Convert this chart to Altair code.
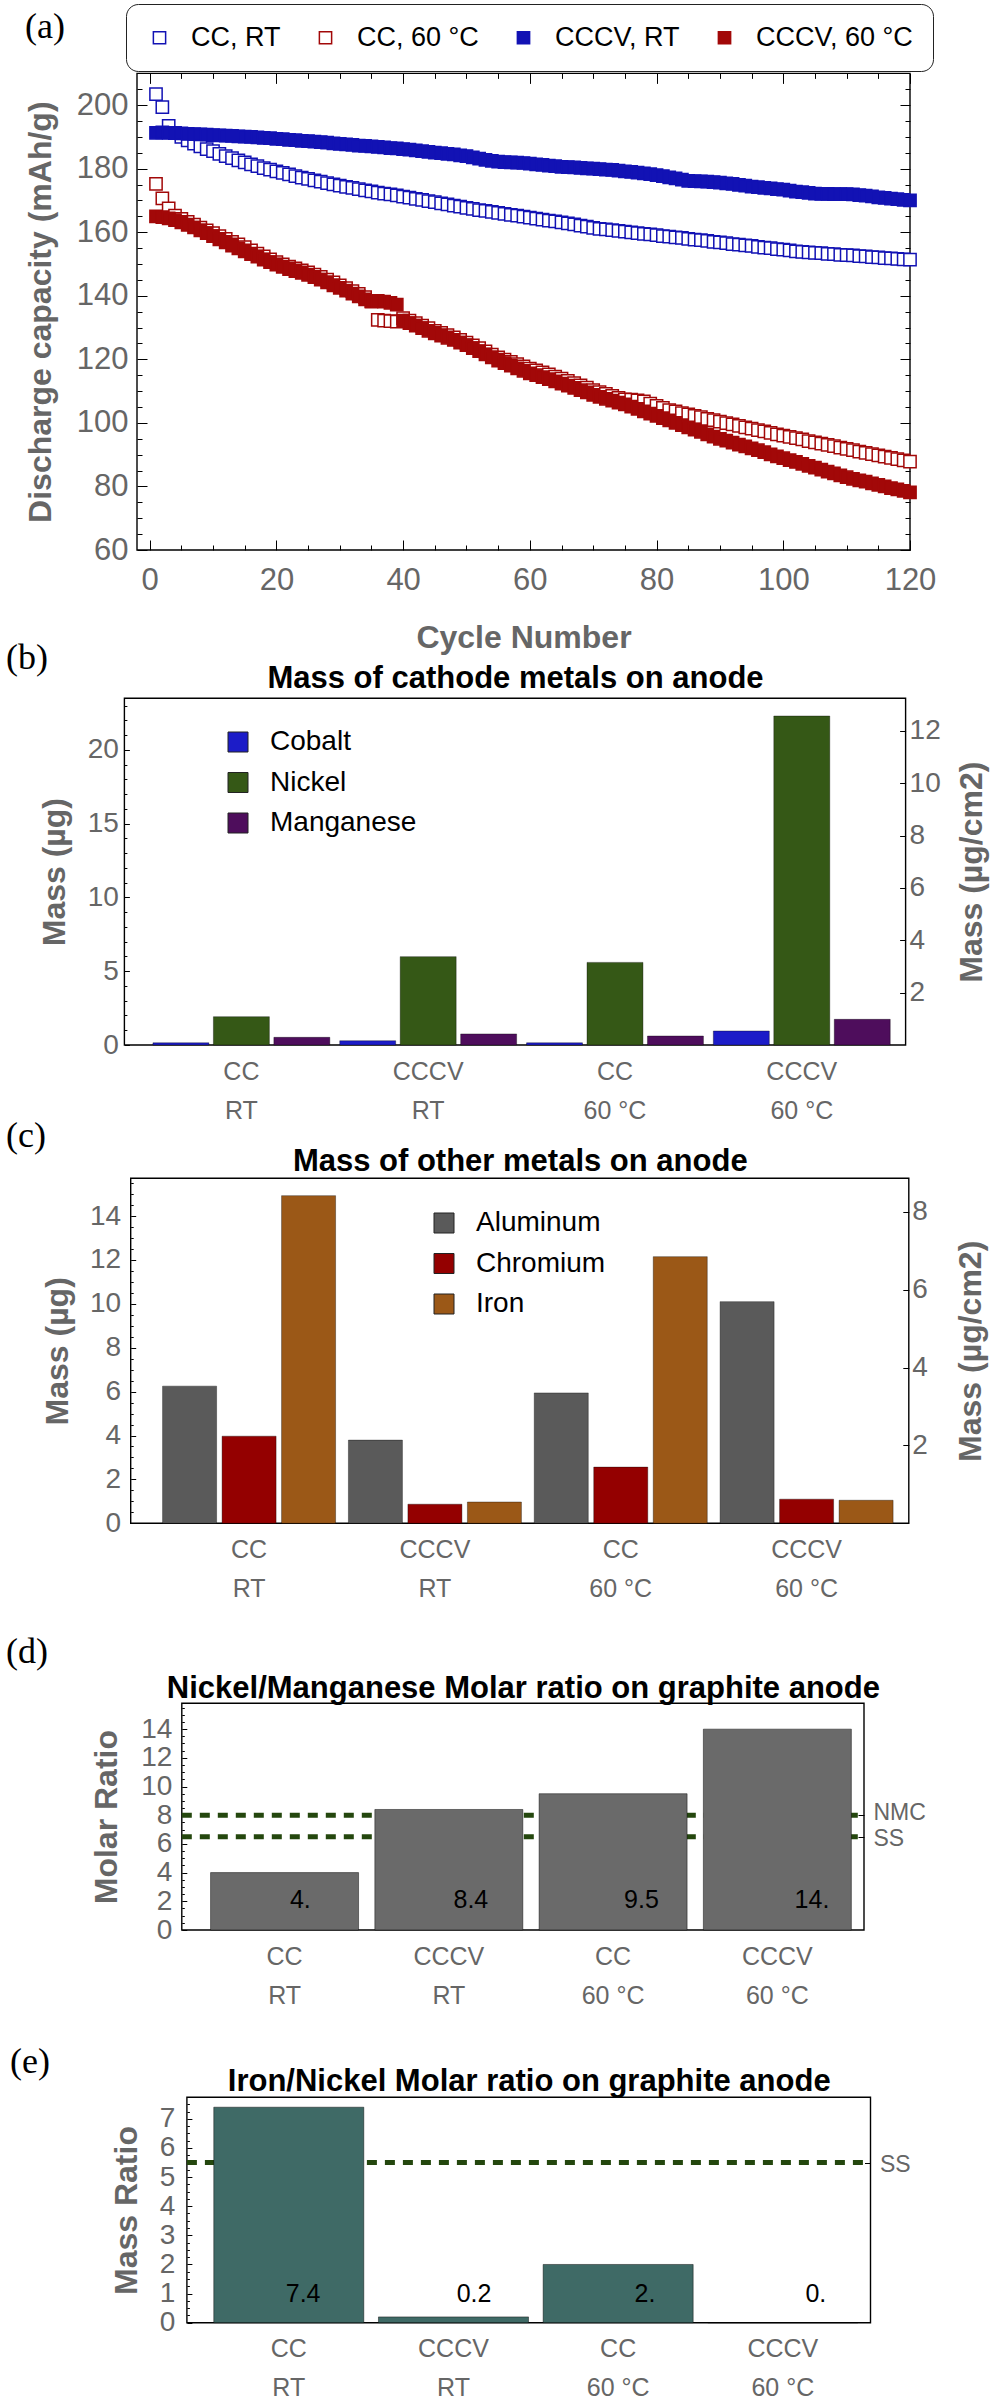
import altair as alt
import pandas as pd

W, H = 1000, 2402
SANS = "Liberation Sans"
SERIF = "Liberation Serif"
GRAY = "#666666"

# ---------------- (a) discharge capacity vs. cycle number ----------------
cycles = list(range(1, 121))
cc_rt = [203.5, 199.4, 193.5, 191.3, 190.0, 188.9, 187.9, 187.0, 186.2, 185.5,
         184.7, 184.0, 183.3, 182.6, 182.0, 181.4, 180.8, 180.2, 179.7, 179.2,
         178.7, 178.2, 177.7, 177.2, 176.8, 176.3, 175.9, 175.5, 175.1, 174.7,
         174.3, 174.0, 173.6, 173.2, 172.9, 172.5, 172.2, 171.9, 171.6, 171.2,
         170.9, 170.5, 170.2, 169.8, 169.5, 169.1, 168.8, 168.4, 168.1, 167.7,
         167.4, 167.0, 166.7, 166.4, 166.1, 165.8, 165.5, 165.2, 164.9, 164.6,
         164.3, 164.0, 163.7, 163.4, 163.1, 162.8, 162.5, 162.1, 161.8, 161.4,
         161.1, 160.9, 160.7, 160.4, 160.2, 160.0, 159.7, 159.5, 159.3, 159.1,
         158.8, 158.6, 158.4, 158.2, 157.9, 157.7, 157.5, 157.3, 157.0, 156.8,
         156.6, 156.3, 156.1, 155.9, 155.7, 155.4, 155.2, 155.0, 154.7, 154.5,
         154.3, 154.0, 153.8, 153.7, 153.5, 153.4, 153.2, 153.1, 152.9, 152.8,
         152.7, 152.5, 152.4, 152.2, 152.1, 151.9, 151.8, 151.6, 151.5, 151.4]
cc_60 = [175.2, 170.7, 167.5, 165.2, 164.2, 163.3, 162.4, 161.5, 160.6, 159.7,
         158.8, 157.9, 157.0, 156.2, 155.3, 154.3, 153.3, 152.4, 151.5, 150.6,
         149.9, 149.2, 148.6, 148.0, 147.4, 146.7, 146.0, 145.1, 144.2, 143.3,
         142.4, 141.5, 140.6, 139.6, 138.2, 132.4, 132.2, 132.0, 131.9, 133.0,
         132.2, 131.4, 130.6, 129.8, 129.0, 128.3, 127.6, 126.9, 126.1, 125.3,
         124.4, 123.5, 122.5, 121.5, 120.6, 119.9, 119.2, 118.5, 117.8, 117.1,
         116.5, 115.9, 115.3, 114.6, 113.9, 113.2, 112.5, 111.8, 111.1, 110.3,
         109.7, 109.1, 108.5, 107.9, 107.4, 107.3, 107.1, 106.8, 106.1, 105.4,
         104.7, 104.0, 103.6, 103.1, 102.7, 102.2, 101.8, 101.3, 100.9, 100.4,
         99.9, 99.5, 99.1, 98.6, 98.2, 97.7, 97.3, 96.9, 96.4, 96.0,
         95.6, 95.2, 94.8, 94.3, 93.9, 93.5, 93.1, 92.7, 92.2, 91.8,
         91.4, 91.0, 90.6, 90.2, 89.8, 89.4, 89.0, 88.6, 88.2, 87.8]
cccv_rt = [191.3, 191.4, 191.3, 191.2, 191.1, 191.0, 190.9, 190.8, 190.7, 190.6,
           190.5, 190.4, 190.3, 190.2, 190.1, 190.0, 189.9, 189.7, 189.6, 189.4,
           189.3, 189.1, 189.0, 188.8, 188.7, 188.5, 188.4, 188.2, 188.0, 187.8,
           187.7, 187.5, 187.3, 187.2, 187.0, 186.9, 186.7, 186.5, 186.4, 186.2,
           186.0, 185.8, 185.5, 185.3, 185.1, 184.9, 184.7, 184.5, 184.2, 184.0,
           183.6, 183.2, 182.8, 182.5, 182.2, 182.1, 182.0, 181.9, 181.8, 181.6,
           181.4, 181.2, 181.0, 180.8, 180.6, 180.5, 180.4, 180.3, 180.1, 180.0,
           179.9, 179.7, 179.6, 179.4, 179.2, 179.0, 178.8, 178.5, 178.3, 178.0,
           177.7, 177.3, 177.0, 176.6, 176.2, 176.1, 176.0, 175.9, 175.8, 175.6,
           175.4, 175.2, 174.9, 174.7, 174.4, 174.2, 174.0, 173.8, 173.6, 173.4,
           173.1, 172.8, 172.6, 172.4, 172.2, 172.1, 172.1, 172.0, 172.0, 172.0,
           171.9, 171.7, 171.5, 171.3, 171.0, 170.8, 170.6, 170.4, 170.2, 170.0]
cccv_60 = [165.0, 164.8, 164.4, 163.8, 163.1, 162.3, 161.5, 160.6, 159.7, 158.8,
           157.8, 156.8, 155.8, 154.9, 154.0, 153.1, 152.3, 151.4, 150.6, 149.8,
           149.1, 148.4, 147.8, 147.2, 146.6, 145.9, 145.1, 144.2, 143.3, 142.5,
           141.6, 140.7, 139.8, 138.9, 138.3, 138.4, 138.2, 137.8, 137.2, 132.2,
           131.4, 130.6, 129.8, 129.0, 128.2, 127.5, 126.8, 126.1, 125.3, 124.5,
           123.5, 122.6, 121.6, 120.6, 119.6, 118.8, 118.0, 117.2, 116.4, 115.6,
           115.0, 114.4, 113.8, 113.1, 112.4, 111.7, 111.0, 110.3, 109.6, 108.8,
           108.2, 107.6, 107.0, 106.4, 105.8, 105.1, 104.4, 103.6, 102.9, 102.2,
           101.5, 100.8, 100.0, 99.3, 98.6, 97.9, 97.2, 96.4, 95.7, 95.0,
           94.4, 93.8, 93.2, 92.6, 92.0, 91.4, 90.8, 90.1, 89.5, 88.9,
           88.3, 87.7, 87.1, 86.5, 85.9, 85.3, 84.7, 84.1, 83.5, 82.9,
           82.4, 81.9, 81.5, 81.0, 80.5, 80.0, 79.5, 79.1, 78.6, 78.1]
series_names = ["CC, RT", "CC, 60 °C", "CCCV, RT", "CCCV, 60 °C"]
BLUE, RED = "#1212b4", "#a20808"
series_stroke = [BLUE, RED, BLUE, RED]
series_fill = ["white", "white", BLUE, RED]
cycle_ticks = list(range(0, 121, 5))        # majors every 20, minors every 5
capacity_ticks = list(range(60, 206, 5))    # majors every 20, minors every 5

# ---------------- shared bar-chart categories ----------------
conditions = ["CC|RT", "CCCV|RT", "CC|60 °C", "CCCV|60 °C"]
UG_PER_CM2 = 0.5637  # conversion used on the right-hand axes

# (b) cathode metals, µg
cathode_metals = ["Cobalt", "Nickel", "Manganese"]
cobalt_ug = [0.15, 0.29, 0.15, 0.95]
nickel_ug = [1.92, 5.99, 5.6, 22.3]
manganese_ug = [0.52, 0.75, 0.61, 1.74]
cathode_colors = ["#1c1cc8", "#355816", "#4e0d5c"]

# (c) other metals, µg
other_metals = ["Aluminum", "Chromium", "Iron"]
aluminum_ug = [6.25, 3.79, 5.94, 10.1]
chromium_ug = [3.97, 0.87, 2.56, 1.1]
iron_ug = [14.93, 0.97, 12.15, 1.05]
other_colors = ["#5a5a5a", "#940000", "#9b5817"]

# (d) Ni/Mn molar ratio
ni_mn_ratio = [4.0, 8.4, 9.5, 14.0]
ni_mn_text = ["4.", "8.4", "9.5", "14."]
ni_mn_refs = [8.0, 6.5]
ni_mn_ref_names = ["NMC", "SS"]

# (e) Fe/Ni ratio
fe_ni_ratio = [7.4, 0.2, 2.0, 0.0]
fe_ni_text = ["7.4", "0.2", "2.", "0."]
fe_ni_refs = [5.5]
fe_ni_ref_names = ["SS"]

DOT_GREEN = "#24470e"


def lin(domain, rng):
    return alt.Scale(domain=domain, range=rng, nice=False, zero=False)


def inward(n):
    # negative tick length draws the frame ticks into the plot
    return {"expr": str(-n)}


def minor_test(major):
    return f"abs(datum.value / {major} - round(datum.value / {major})) > 1e-6"


def frame_ticks(major, big, small):
    return {"condition": {"test": minor_test(major), "value": -small}, "value": -big}


def major_labels(major):
    # label only the major ticks, printed as plain integers
    return f"{minor_test(major)} ? '' : '' + round(datum.value)"


def tick_values(lo, hi, step):
    n = int(round((hi - lo) / step))
    return [round(lo + i * step, 3) for i in range(n + 1)]


def frame(left, right, top, bottom, ymax, title=None, title_pad=8, right_axis=None, top_ticks=None):
    box = pd.DataFrame({"x0": [0.0], "x1": [1.0], "y0": [0.0], "y1": [ymax]})
    top_kw = dict(orient="top", offset=-top, labels=False, domain=False, grid=False)
    if top_ticks is not None:
        top_kw.update(values=top_ticks[0], tickSize=frame_ticks(20, 10, 5), tickColor="black")
        xs = lin(top_ticks[1], [left, right])
        box["x0"], box["x1"] = [top_ticks[1][0]], [top_ticks[1][1]]
        box["y0"] = [top_ticks[2]]
    else:
        top_kw.update(ticks=False)
        xs = lin([0, 1], [left, right])
    if title:
        top_kw.update(title=title, titleFontSize=31, titleFontWeight="bold", titleColor="black",
                      titleBaseline="alphabetic", titlePadding=title_pad)
    else:
        top_kw.update(title=None)
    y_lo = box["y0"][0]
    return alt.Chart(box).mark_rect(fillOpacity=0, stroke="black", strokeWidth=1.4).encode(
        x=alt.X("x0:Q", scale=xs, axis=alt.Axis(**top_kw)),
        x2="x1",
        y=alt.Y("y0:Q", scale=lin([y_lo, ymax], [bottom, top]), axis=right_axis),
        y2="y1",
    )


def left_axis(left, major, minor, ymax, title, label_gap, title_pad, font=28):
    return alt.Axis(orient="left", offset=-left, values=tick_values(0, ymax - 1e-9 - (ymax % minor), minor),
                    tickSize=frame_ticks(major, 5, 2.5), tickColor="black",
                    labelExpr=major_labels(major), labelPadding=label_gap + 5, labelFontSize=font,
                    labelColor=GRAY, domain=False, title=title, titleFontSize=32,
                    titleFontWeight="bold", titleColor=GRAY, titlePadding=title_pad, grid=False)


def band_axis(bottom, pad=14):
    return alt.Axis(orient="bottom", offset=bottom - H, labelExpr="split(datum.label, '|')",
                    labelAngle=0, ticks=False, domain=False, labelFontSize=25, labelColor=GRAY,
                    labelLineHeight=39, labelPadding=pad, labelBaseline="top", title=None, grid=False)


# ---------------- panel (a) ----------------
A_L, A_R, A_T, A_B = 137, 910, 73.4, 550
df_a = pd.DataFrame({
    "cycle": cycles * 4,
    "capacity": cc_rt + cc_60 + cccv_rt + cccv_60,
    "series": [s for s in series_names for _ in cycles],
})
legend_a = alt.Legend(orient="none", legendX=126, legendY=4, direction="horizontal", title=None,
                      labelFontSize=27, labelColor="black", labelOffset=18, symbolType="square",
                      symbolSize=150, symbolStrokeWidth=1.5, columnPadding=31, padding=20,
                      strokeColor="#222222", cornerRadius=12, fillColor="white")
points = alt.Chart(df_a).mark_point(shape="square", size=150, strokeWidth=1.5, opacity=1).encode(
    x=alt.X("cycle:Q", scale=lin([-2, 120], [A_L, A_R]), axis=alt.Axis(
        orient="bottom", offset=A_B - H, values=cycle_ticks, tickSize=frame_ticks(20, 10, 5),
        tickColor="black", labelExpr=major_labels(20), labelPadding=25, labelFontSize=31,
        labelColor=GRAY, labelFlush=False, domain=False, title="Cycle Number", titleFontSize=32,
        titleFontWeight="bold", titleColor=GRAY, titlePadding=22, grid=False)),
    y=alt.Y("capacity:Q", scale=lin([60, 210], [A_B, A_T]), axis=alt.Axis(
        orient="left", offset=-A_L, values=capacity_ticks, tickSize=frame_ticks(20, 10, 5),
        tickColor="black", labelExpr=major_labels(20), labelPadding=19, labelFontSize=31,
        labelColor=GRAY, domain=False, title="Discharge capacity (mAh/g)", titleFontSize=32,
        titleFontWeight="bold", titleColor=GRAY, titlePadding=19, grid=False)),
    stroke=alt.Stroke("series:N", scale=alt.Scale(domain=series_names, range=series_stroke), legend=legend_a),
    fill=alt.Fill("series:N", scale=alt.Scale(domain=series_names, range=series_fill), legend=legend_a),
)
frame_a = frame(A_L, A_R, A_T, A_B, 210,
                right_axis=alt.Axis(orient="right", offset=A_R - W, values=capacity_ticks,
                                    tickSize=frame_ticks(20, 10, 5), tickColor="black", labels=False,
                                    domain=False, title=None, grid=False),
                top_ticks=(cycle_ticks, [-2, 120], 60))
panel_a = alt.layer(frame_a, points).resolve_scale(x="independent", y="independent")


# ---------------- panels (b) and (c): grouped bars ----------------
def grouped_panel(series, metals, colors, box, ymax, major, minor, rticks, title, title_pad,
                  band, legend_xy, lpad, tpad, rpad, rtpad):
    left, right, top, bottom = box
    df = pd.DataFrame({
        "cond": conditions * len(metals),
        "metal": [m for m in metals for _ in conditions],
        "mass": [v for s in series for v in s],
    })
    pi, po, al, opi = band
    bars = alt.Chart(df).mark_bar(stroke="black", strokeOpacity=0.35, strokeWidth=1).encode(
        x=alt.X("cond:N", sort=conditions,
                scale=alt.Scale(domain=conditions, range=[left, right], paddingInner=pi,
                                paddingOuter=po, align=al),
                axis=band_axis(bottom)),
        xOffset=alt.XOffset("metal:N", sort=metals, scale=alt.Scale(domain=metals, paddingInner=opi)),
        y=alt.Y("mass:Q", scale=lin([0, ymax], [bottom, top]),
                axis=left_axis(left, major, minor, ymax, "Mass (µg)", lpad, tpad)),
        color=alt.Color("metal:N", sort=metals, scale=alt.Scale(domain=metals, range=colors),
                        legend=alt.Legend(orient="none", legendX=legend_xy[0], legendY=legend_xy[1],
                                          direction="vertical", title=None, labelFontSize=28,
                                          labelColor="black", labelOffset=18, symbolType="square",
                                          symbolSize=400, symbolStrokeColor="#222222",
                                          symbolStrokeWidth=1, rowPadding=12.5, padding=0)),
    )
    raxis = alt.Axis(orient="right", offset=right - W, values=rticks, tickSize=inward(6),
                     tickColor="black", labelPadding=rpad + 6, labelFontSize=28, labelColor=GRAY,
                     domain=False, title="Mass (µg/cm2)", titleFontSize=32, titleFontWeight="bold",
                     titleColor=GRAY, titleAngle=270, titleBaseline="top", titlePadding=rtpad,
                     grid=False)
    fr = frame(left, right, top, bottom, ymax * UG_PER_CM2, title=title, title_pad=title_pad,
               right_axis=raxis)
    return alt.layer(fr, bars).resolve_scale(x="independent", y="independent")


panel_b = grouped_panel([cobalt_ug, nickel_ug, manganese_ug], cathode_metals, cathode_colors,
                        (124.4, 905.6, 698.3, 1045), 23.5, 5, 1,
                        [2, 4, 6, 8, 10, 12], "Mass of cathode metals on anode", 11,
                        (0.053, 0.1175, 0.65, 0.0744), (224, 728), 6, 16, 3.5, 16)
panel_c = grouped_panel([aluminum_ug, chromium_ug, iron_ug], other_metals, other_colors,
                        (130.7, 908.8, 1178.3, 1523.3), 15.72, 2, 0.5,
                        [2, 4, 6, 8], "Mass of other metals on anode", 8,
                        (0.069, 0.128, 0.67, 0.092), (430, 1209), 10, 15, 3, 28)


# ---------------- panels (d) and (e): ratio bars with reference lines ----------------
def ratio_panel(values, texts, refs, ref_names, color, box, ymax, major, minor, title, title_pad,
                ytitle, band, label_y, lpad, tpad):
    left, right, top, bottom = box
    pi, po, al = band
    df = pd.DataFrame({"cond": conditions, "ratio": values, "text": texts})

    def xs():
        return alt.Scale(domain=conditions, range=[left, right], paddingInner=pi,
                         paddingOuter=po, align=al)

    bars = alt.Chart(df).mark_bar(color=color, stroke="black", strokeOpacity=0.45, strokeWidth=1).encode(
        x=alt.X("cond:N", sort=conditions, scale=xs(), axis=band_axis(bottom)),
        y=alt.Y("ratio:Q", scale=lin([0, ymax], [bottom, top]),
                axis=left_axis(left, major, minor, ymax, ytitle, lpad, tpad)),
    )
    labels = alt.Chart(df).mark_text(font=SANS, fontSize=25, color="black", baseline="middle").transform_calculate(
        label_y=str(label_y)
    ).encode(
        x=alt.X("cond:N", sort=conditions, scale=xs(), axis=None),
        y=alt.Y("label_y:Q", scale=lin([0, ymax], [bottom, top]), axis=None),
        text="text:N",
    )
    label_expr = " : ".join(f"abs(datum.value - {v}) < 1e-6 ? '{n}'" for v, n in zip(refs, ref_names)) + " : ''"
    # the upper of two close reference labels is nudged up, the lower one down
    split = sum(refs) / len(refs)
    rdf = pd.DataFrame({"ref": refs, "name": ref_names})
    rules = alt.Chart(rdf).mark_rule(color=DOT_GREEN, strokeWidth=5, strokeDash=[10, 8]).transform_calculate(
        x0="0", x1="1"
    ).encode(
        x=alt.X("x0:Q", scale=lin([0, 1], [left, right]), axis=None),
        x2="x1",
        y=alt.Y("ref:Q", scale=lin([0, ymax], [bottom, top]), axis=alt.Axis(
            orient="right", offset=right - W, values=refs, labelExpr=label_expr, tickSize=inward(6),
            tickColor="black", labelPadding=15, labelFontSize=23, labelColor=GRAY, labelOverlap=False,
            labelOffset={"condition": {"test": f"datum.value > {split} + 1e-6", "value": -3}, "value": 2},
            labelBaseline="middle", domain=False, title=None, grid=False)),
    )
    fr = frame(left, right, top, bottom, ymax, title=title, title_pad=title_pad)
    return alt.layer(fr, rules, bars, labels).resolve_scale(x="independent", y="independent")


panel_d = ratio_panel(ni_mn_ratio, ni_mn_text, ni_mn_refs, ni_mn_ref_names, "#6a6a6a",
                      (181.8, 864, 1703.3, 1930), 15.8, 2, 0.5,
                      "Nickel/Manganese Molar ratio on graphite anode", 6, "Molar Ratio",
                      (0.099, 0.126, 0.695), 2.1, 10, 17)
panel_e = ratio_panel(fe_ni_ratio, fe_ni_text, fe_ni_refs, fe_ni_ref_names, "#3f6a66",
                      (186.9, 870.5, 2097.3, 2322.7), 7.74, 1, 0.25,
                      "Iron/Nickel Molar ratio on graphite anode", 7, "Mass Ratio",
                      (0.089, 0.12, 0.68), 1.0, 12, 16)

# ---------------- panel tags ----------------
panel_tags = ["(a)", "(b)", "(c)", "(d)", "(e)"]
tag_xy = [(25, 27), (6, 658), (6, 1136), (6, 1652), (10, 2062)]
tags = [
    alt.Chart(pd.DataFrame({"t": [t]})).mark_text(font=SERIF, fontSize=36, align="left",
                                                   baseline="middle", color="black").encode(
        text="t:N", x=alt.value(xy[0]), y=alt.value(xy[1]))
    for t, xy in zip(panel_tags, tag_xy)
]

chart = alt.layer(panel_a, panel_b, panel_c, panel_d, panel_e, *tags).resolve_scale(
    x="independent", y="independent", xOffset="independent", color="independent",
    fill="independent", stroke="independent",
).properties(
    width=W, height=H, padding=0, autosize=alt.AutoSizeParams(type="none"),
).configure_view(strokeWidth=0).configure_axis(
    labelFont=SANS, titleFont=SANS, labelOverlap=False, labelFlush=False, minExtent=0, grid=False,
).configure_legend(labelFont=SANS)

chart.save("out.html", embed_options={"renderer": "svg", "actions": False})
